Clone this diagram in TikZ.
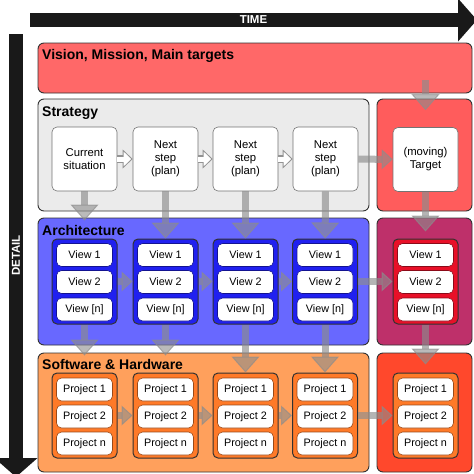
\documentclass[tikz,border=0pt]{standalone}
\usepackage{fontspec}
\setmainfont{Liberation Sans}
\usepackage{xcolor}
\usepackage{tikz}
\usetikzlibrary{arrows.meta,positioning,calc}

\definecolor{cvision}{RGB}{255,104,104}
\definecolor{ctarget}{RGB}{255,92,92}
\definecolor{cstrat}{RGB}{235,235,235}
\definecolor{carch}{RGB}{104,104,255}
\definecolor{carchr}{RGB}{190,48,106}
\definecolor{csoft}{RGB}{255,160,92}
\definecolor{csoftr}{RGB}{255,72,44}
\definecolor{cblue}{RGB}{32,32,240}
\definecolor{cred}{RGB}{232,16,40}
\definecolor{corange}{RGB}{255,122,40}
\definecolor{cline}{RGB}{50,50,50}
\definecolor{carrow}{RGB}{140,140,140}

\tikzset{
  panel/.style={draw=cline, line width=0.9pt, rounded corners=6pt, inner sep=0pt},
  title/.style={font=\fontsize{14}{16}\selectfont\bfseries, anchor=base west, inner sep=0pt},
  stepbox/.style={draw=black!55, fill=white, line width=0.6pt, rounded corners=5pt, minimum width=65pt, minimum height=64pt, inner sep=0pt, align=center, font=\fontsize{11.3}{13}\selectfont},
  cont/.style={draw=cline, line width=1pt, rounded corners=5pt, minimum width=65pt, minimum height=85pt, inner sep=0pt},
  item/.style={fill=white, line width=0.6pt, rounded corners=5pt, minimum width=56pt, minimum height=23pt, inner sep=0pt, font=\fontsize{10.8}{12}\selectfont},
  axis/.style={line width=14pt, black!90, -{Triangle[width=42pt,length=19pt]}},
  axlabel/.style={text=white, font=\fontsize{11.5}{13}\selectfont\bfseries},
  fatv/.style={line width=7pt, draw=carrow, draw opacity=.65, fill opacity=.6, -{Triangle[width=28pt,length=16pt,line width=1pt]}},
  fath/.style={line width=7pt, draw=carrow, draw opacity=.65, fill opacity=.6, -{Triangle[width=20pt,length=11pt,line width=1pt]}},
  hollow/.style={line width=7.5pt, draw=gray!85, -{Triangle[width=19pt,length=10pt,line width=0pt]},
    postaction={draw=white, line width=5pt, -{Triangle[width=14.5pt,length=7.5pt,line width=0pt]}, shorten >=1.5pt}}
}

\begin{document}
\begin{tikzpicture}[x=1pt, y=-1pt]
\useasboundingbox (0,0) rectangle (474,474);

%axes
\coordinate (t0) at (30,20);
\coordinate (t1) at (477,20);
\draw[axis] (t0) -- (t1) node[midway, axlabel] {TIME};
\coordinate (d0) at (16,34);
\coordinate (d1) at (16,477);
\draw[axis] (d0) -- (d1) node[midway, axlabel, rotate=90] {DETAIL};

%panels
\node[panel, fill=cvision, minimum width=434, minimum height=50] (vm) at (255,68) {};
\node[panel, fill=cstrat, minimum width=331, minimum height=112] (st) at (203.5,155) {};
\node[panel, fill=ctarget, minimum width=95, minimum height=112] (tp) at (424.5,155) {};
\node[panel, fill=carch, minimum width=331, minimum height=127] (ar) at (203.5,281.5) {};
\node[panel, fill=carchr, minimum width=95, minimum height=127] (arr) at (424.5,281.5) {};
\node[panel, fill=csoft, minimum width=331, minimum height=119] (sw) at (203.5,412.5) {};
\node[panel, fill=csoftr, minimum width=95, minimum height=119] (swr) at (424.5,412.5) {};

\node[title] at (42,59.5) {Vision, Mission, Main targets};
\node[title] at (42,116.5) {Strategy};
\node[title] at (42,235) {Architecture};
\node[title] at (42,369) {Software \& Hardware};

%strategy
\node[stepbox] (s1) at (84.5,159) {Current\\situation};
\node[stepbox] (s2) at (165.5,159) {Next\\step\\(plan)};
\node[stepbox] (s3) at (245.5,159) {Next\\step\\(plan)};
\node[stepbox] (s4) at (325.5,159) {Next\\step\\(plan)};
\node[stepbox] (tg) at (425.5,159.5) {(moving)\\Target};

%architecture
\node[cont, fill=cblue] (a1) at (84.5,281.5) {};
\node[cont, fill=cblue] (a2) at (165.5,281.5) {};
\node[cont, fill=cblue] (a3) at (245.5,281.5) {};
\node[cont, fill=cblue] (a4) at (325,281.5) {};
\node[cont, fill=cred] (a5) at (425.5,281.5) {};
\node[item, draw=cblue!60!black] at (84.5,255) {View 1};
\node[item, draw=cblue!60!black] at (84.5,282) {View 2};
\node[item, draw=cblue!60!black] at (84.5,309.5) {View [n]};
\node[item, draw=cblue!60!black] at (165.5,255) {View 1};
\node[item, draw=cblue!60!black] at (165.5,282) {View 2};
\node[item, draw=cblue!60!black] at (165.5,309.5) {View [n]};
\node[item, draw=cblue!60!black] at (245.5,255) {View 1};
\node[item, draw=cblue!60!black] at (245.5,282) {View 2};
\node[item, draw=cblue!60!black] at (245.5,309.5) {View [n]};
\node[item, draw=cblue!60!black] at (325,255) {View 1};
\node[item, draw=cblue!60!black] at (325,282) {View 2};
\node[item, draw=cblue!60!black] at (325,309.5) {View [n]};
\node[item, draw=cred!60!black] at (425.5,255) {View 1};
\node[item, draw=cred!60!black] at (425.5,282) {View 2};
\node[item, draw=cred!60!black] at (425.5,309.5) {View [n]};

%software
\node[cont, fill=corange] (p1) at (84.5,415.5) {};
\node[cont, fill=corange] (p2) at (165.5,415.5) {};
\node[cont, fill=corange] (p3) at (245.5,415.5) {};
\node[cont, fill=corange] (p4) at (325,415.5) {};
\node[cont, fill=corange] (p5) at (425.5,415.5) {};
\node[item, draw=corange!60!black] at (84.5,389.5) {Project 1};
\node[item, draw=corange!60!black] at (84.5,416.5) {Project 2};
\node[item, draw=corange!60!black] at (84.5,443.5) {Project n};
\node[item, draw=corange!60!black] at (165.5,389.5) {Project 1};
\node[item, draw=corange!60!black] at (165.5,416.5) {Project 2};
\node[item, draw=corange!60!black] at (165.5,443.5) {Project n};
\node[item, draw=corange!60!black] at (245.5,389.5) {Project 1};
\node[item, draw=corange!60!black] at (245.5,416.5) {Project 2};
\node[item, draw=corange!60!black] at (245.5,443.5) {Project n};
\node[item, draw=corange!60!black] at (325,389.5) {Project 1};
\node[item, draw=corange!60!black] at (325,416.5) {Project 2};
\node[item, draw=corange!60!black] at (325,443.5) {Project n};
\node[item, draw=corange!60!black] at (425.5,389.5) {Project 1};
\node[item, draw=corange!60!black] at (425.5,416.5) {Project 2};
\node[item, draw=corange!60!black] at (425.5,443.5) {Project n};

%arrows in time
\draw[hollow] (s1) -- (s2);
\draw[hollow] (s2) -- (s3);
\draw[hollow] (s3) -- (s4);
\draw[fath] (s4) -- (tg);
\draw[fath] (a1) -- (a2);
\draw[fath] (a2) -- (a3);
\draw[fath] (a3) -- (a4);
\draw[fath] (a4) -- (a5);
\draw[fath] (p1) -- (p2);
\draw[fath] (p2) -- (p3);
\draw[fath] (p3) -- (p4);
\draw[fath] (p4) -- (p5);

%arrows in detail
\draw[fatv] ([yshift=13pt]vm.south -| tg) -- ([yshift=17pt]tg.north);
\draw[fatv] (s1) -- ([yshift=-3pt]s1 |- ar.north);
\draw[fatv] (s2) -- (a2);
\draw[fatv] (s3) -- (a3);
\draw[fatv] (s4) -- (a4);
\draw[fatv, shorten >=7pt] (tg) -- (a5);
\draw[fatv] (a1) -- ([yshift=-3pt]a1 |- sw.north);
\draw[fatv] (a2) -- ([yshift=-3pt]a2 |- sw.north);
\draw[fatv] (a3) -- (p3);
\draw[fatv] (a4) -- (p4);
\draw[fatv, shorten >=8pt] (a5) -- (p5);
\end{tikzpicture}
\end{document}
